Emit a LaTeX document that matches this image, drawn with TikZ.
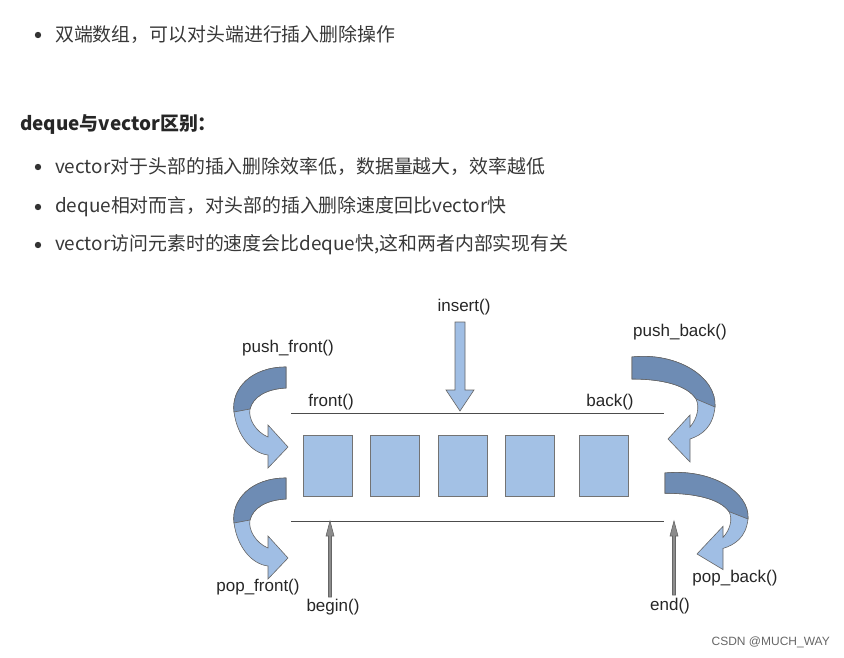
\documentclass[tikz,border=0pt]{standalone}
\usepackage{fontspec}
\setmainfont{Liberation Sans}
\newfontfamily\cjk{Noto Sans CJK SC}
\begin{document}
\begin{tikzpicture}[x=1pt,y=-1pt,
  txt/.style={font=\cjk\fontsize{18.9}{20}\selectfont,text=black!78,anchor=west,inner sep=0},
  lbl/.style={font=\fontsize{17}{19}\selectfont,text=black!85,inner sep=0},
  elem/.style={draw=black!55,line width=0.8pt,minimum width=49pt,minimum height=61pt,inner sep=0},
  elemfill/.style={fill={rgb,255:red,163;green,193;blue,229}},
  light/.style={fill={rgb,255:red,160;green,190;blue,228},draw=black!60,line width=0.6pt},
  dark/.style={fill={rgb,255:red,110;green,140;blue,180},draw=black!60,line width=0.6pt},
  rail/.style={draw=black!70,line width=0.8pt},
  thin/.style={draw=black!60,fill={rgb,255:red,160;green,190;blue,228},line width=0.6pt}]
\useasboundingbox (0,0) rectangle (844,658);
% bullets
\foreach \y in {35,167,207,245} \fill[black!80] (38,\y) circle (3.2);
\node[txt] (t1) at (55,35) {双端数组，可以对头端进行插入删除操作};
\node[txt,font=\cjk\bfseries\fontsize{18.9}{20}\selectfont,text=black!85] (h) at (20,124) {deque与vector区别：};
\node[txt] (t2) at (55,167) {vector对于头部的插入删除效率低，数据量越大，效率越低};
\node[txt] (t3) at (55,207) {deque相对而言，对头部的插入删除速度回比vector快};
\node[txt] (t4) at (55,245) {vector访问元素时的速度会比deque快,这和两者内部实现有关};
% rails
\coordinate (tl) at (291,413); \coordinate (tr) at (664,413);
\coordinate (bl) at (291,521); \coordinate (br) at (664,521);
\draw[rail] (tl) -- (tr);
\draw[rail] (bl) -- (br);
% elements
\foreach \n/\x in {e1/327.5,e2/395,e3/462.5,e4/530,e5/603.5}
  \node[elem,elemfill] (\n) at (\x,465.5) {};
% labels
\node[lbl] (ins) at (464,307) {insert()};
\node[lbl] (fr) at (331,402) {front()};
\node[lbl] (bk) at (610,402) {back()};
\node[lbl] (pf) at (288,348) {push\_front()};
\node[lbl] (pof) at (258,587) {pop\_front()};
\node[lbl] (pb) at (680,332) {push\_back()};
\node[lbl] (pob) at (735,578) {pop\_back()};
\node[lbl] (bg) at (333,607) {begin()};
\node[lbl] (en) at (670,606) {end()};
% insert arrow
\draw[thin] (455,322) -- (465,322) -- (465,390) -- (474,390) -- (460,411) -- (446,390) -- (455,390) -- cycle;
% begin / end thin arrows
\draw[thin,fill=black!45] (328.5,597) -- (331.5,597) -- (331.5,536) -- (334,536) -- (330,521) -- (326,536) -- (328.5,536) -- cycle;
\draw[thin,fill=black!45] (672.5,595) -- (675.5,595) -- (675.5,536) -- (678,536) -- (674,521) -- (670,536) -- (672.5,536) -- cycle;
% left curved arrows
\foreach \yy in {367,478}{
\begin{scope}[shift={(286,\yy)}]
\draw[light] (0,0) .. controls (-35,0) and (-55,22) .. (-52,45) .. controls (-49,68) and (-35,86) .. (-18,88)
  -- (-18,101) -- (2,80) -- (-18,58) -- (-18,70) .. controls (-30,65) and (-38,52) .. (-36,42) .. controls (-33,30) and (-20,22) .. (0,21) -- cycle;
\draw[dark] (0,0) .. controls (-35,0) and (-55,22) .. (-52,45) -- (-36,42) .. controls (-33,30) and (-20,22) .. (0,21) -- cycle;
\end{scope}}
% right curved arrows
\begin{scope}[shift={(632,357)}]
\draw[light] (0,0) .. controls (45,-5) and (85,20) .. (83,50) .. controls (81,70) and (70,78) .. (58,82)
  -- (58,105) -- (36,82) -- (58,58) -- (58,70) .. controls (65,62) and (68,50) .. (64,42) .. controls (55,28) and (30,22) .. (0,22) -- cycle;
\draw[dark] (0,0) .. controls (45,-5) and (85,20) .. (83,50) -- (64,42) .. controls (55,28) and (30,22) .. (0,22) -- cycle;
\end{scope}
\begin{scope}[shift={(665,473)},yscale=0.92]
\draw[light] (0,0) .. controls (45,-5) and (85,20) .. (83,50) .. controls (81,70) and (70,78) .. (58,82)
  -- (58,105) -- (32,88) -- (58,58) -- (58,70) .. controls (65,62) and (68,50) .. (64,42) .. controls (55,28) and (30,22) .. (0,22) -- cycle;
\draw[dark] (0,0) .. controls (45,-5) and (85,20) .. (83,50) -- (64,42) .. controls (55,28) and (30,22) .. (0,22) -- cycle;
\end{scope}
\node[font=\fontsize{12}{13}\selectfont,text=black!60,anchor=east,inner sep=0] (wm) at (830,642) {CSDN @MUCH\_WAY};
\end{tikzpicture}
\end{document}
